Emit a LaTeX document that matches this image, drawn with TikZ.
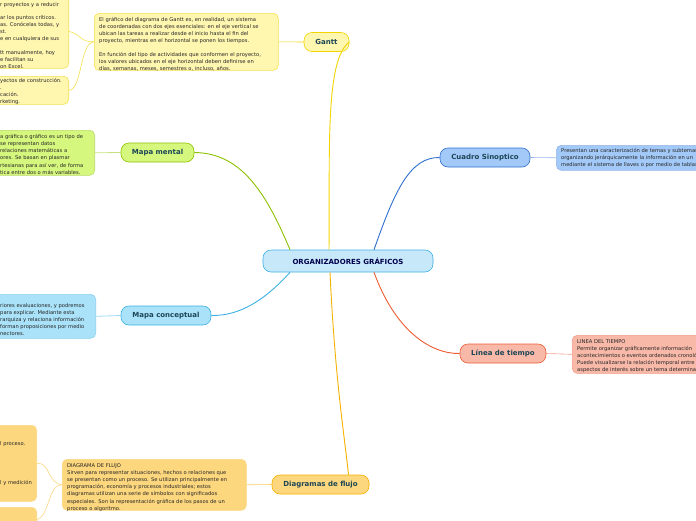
\documentclass[tikz,border=0pt]{standalone}
\usepackage{fontspec}
\setmainfont{DejaVu Sans}
\begin{document}
\begin{tikzpicture}[x=1pt,y=-1pt,
  box/.style={draw,rounded corners=5pt,line width=0.6pt},
  topic/.style={box,rounded corners=8pt,font=\fontsize{7}{8}\selectfont\bfseries,text=tealdark,inner sep=0pt},
  txt/.style={font=\fontsize{5.2}{7.2}\selectfont,align=left,anchor=north west,inner sep=0pt,text=black!85},
  link/.style={line width=0.9pt}]
\definecolor{tealdark}{HTML}{1C4656}
\useasboundingbox (0,0) rectangle (696,520);
\clip (0,0) rectangle (696,520);
\definecolor{yel}{HTML}{FFF6B0}\definecolor{yelB}{HTML}{F2D400}
\definecolor{grn}{HTML}{D6F77E}\definecolor{grnB}{HTML}{8DC100}
\definecolor{blu}{HTML}{A9E2F9}\definecolor{bluB}{HTML}{3DB1E3}
\definecolor{org}{HTML}{FDD77E}\definecolor{orgB}{HTML}{F5B000}
\definecolor{sin}{HTML}{A2C9F7}\definecolor{sinB}{HTML}{2F6FD0}
\definecolor{red}{HTML}{F8B9A9}\definecolor{redB}{HTML}{EC5B33}
\definecolor{cen}{HTML}{C7E8F9}

% central
\node[topic,fill=cen,draw=bluB,minimum width=170,minimum height=22,text=blue!30!black] (c) at (348,261) {ORGANIZADORES GRÁFICOS};
% children
\node[topic,fill=yel,draw=yelB,minimum width=45,minimum height=19] (g) at (326.5,42) {Gantt};
\node[topic,fill=grn,draw=grnB,minimum width=73,minimum height=19] (mm) at (157.5,152.5) {Mapa mental};
\node[topic,fill=blu,draw=bluB,minimum width=90,minimum height=19] (mc) at (166,315.5) {Mapa conceptual};
\node[topic,fill=org,draw=orgB,minimum width=97,minimum height=19] (df) at (320.5,484.5) {Diagramas de flujo};
\node[topic,fill=sin,draw=sinB,minimum width=90,minimum height=19] (cs) at (485,157.5) {Cuadro Sinoptico};
\node[topic,fill=red,draw=redB,minimum width=86,minimum height=19] (lt) at (503,353.5) {Línea de tiempo};

% main links
\draw[link,yelB] (c.north)+(-19,0) coordinate (c1) (c1) .. controls (330,150) and (325,60) .. (g.east);
\draw[link,grnB] (c.north)+(-58,0) coordinate (c2) (c2) .. controls (265,190) and (240,153) .. (mm.east);
\draw[link,bluB] (c.south)+(-58,0) coordinate (c3) (c3) .. controls (265,300) and (240,316) .. (mc.east);
\draw[link,orgB] (c.south)+(-18,0) coordinate (c4) (df.north)+(28,0) coordinate (d4) (c4) .. controls (335,380) and (345,440) .. (d4);
\draw[link,sinB] (c.north)+(26,0) coordinate (c5) (c5) .. controls (395,190) and (410,157) .. (cs.west);
\draw[link,redB] (c.south)+(26,0) coordinate (c6) (c6) .. controls (395,330) and (430,354) .. (lt.west);

% text boxes
\node[box,fill=yel,draw=yelB!70,minimum width=184,minimum height=57,anchor=north west] (gt) at (94,13) {};
\node[txt] at (99,17) {El gráfico del diagrama de Gantt es, en realidad, un sistema\\de coordenadas con dos ejes esenciales: en el eje vertical se\\ubican las tareas a realizar desde el inicio hasta el fin del\\proyecto, mientras en el horizontal se ponen los tiempos.\\[6pt]En función del tipo de actividades que conformen el proyecto,\\los valores ubicados en el eje horizontal deben definirse en\\días, semanas, meses, semestres o, incluso, años.};
\draw[yelB,line width=0.6pt] (g.west) -- (gt.east);

\node[box,fill=yel,draw=yelB!70,minimum width=80,minimum height=74,anchor=north east] (g1) at (69,-6) {};
\node[txt] at (0,2) {r proyectos y a reducir\\[6pt]ar los puntos críticos.\\as. Conócelas todas, y\\st.\\e en cualquiera de sus\\[6pt]tt manualmente, hoy\\e facilitan su\\on Excel.};
\node[box,fill=yel,draw=yelB!70,minimum width=80,minimum height=28,anchor=north east] (g2) at (69,76) {};
\node[txt] at (0,78) {yectos de construcción.\\.\\cación.\\rketing.};
\draw[yelB!70,line width=0.6pt] (gt.west) .. controls (80,42) and (82,35) .. (g1.east);
\draw[yelB!70,line width=0.6pt] (gt.west) .. controls (80,42) and (82,90) .. (g2.east);

\node[box,fill=grn,draw=grnB!60,minimum width=105,minimum height=45,anchor=north east] (mt) at (95,130) {};
\node[txt] at (0,134) {a gráfica o gráfico es un tipo de\\se representan datos\\ relaciones matemáticas a\\ores. Se basan en plasmar\\rtesianas para así ver, de forma\\tica entre dos o más variables.};
\draw[grnB!50,line width=0.8pt] (mm.west) -- (mt.east);

\node[box,fill=blu,draw=bluB!60,minimum width=106,minimum height=44,anchor=north east] (ct) at (96,294) {};
\node[txt] at (0,303) {riores evaluaciones, y podremos\\para explicar. Mediante esta\\rarquiza y relaciona información\\forman proposiciones por medio\\nectores.};
\draw[bluB!50,line width=0.8pt] (mc.west) -- (ct.east);

\node[box,fill=org,draw=orgB!50,minimum width=184,minimum height=51,anchor=north west] (ft) at (62,459) {};
\node[txt] at (67,463) {DIAGRAMA DE FLUJO\\Sirven para representar situaciones, hechos o relaciones que\\se presentan como un proceso. Se utilizan principalmente en\\programación, economía y procesos industriales; estos\\diagramas utilizan una serie de símbolos con significados\\especiales.  Son la representación gráfica de los pasos de un\\proceso o algoritmo.};
\draw[orgB!60,line width=0.6pt] (df.west) -- (ft.east);
\node[box,fill=org,draw=orgB!50,minimum width=47,minimum height=76,anchor=north east] (f1) at (37,425) {};
\node[txt] at (0,441) {l proceso.};
\node[txt] at (0,480) {l y medición};
\node[box,fill=org,draw=orgB!50,minimum width=47,minimum height=30,anchor=north east] (f2) at (37,507) {};
\coordinate (f2e) at (37,520);
\draw[orgB!50,line width=0.6pt] (ft.west) .. controls (48,484) and (50,462) .. (f1.east);
\draw[orgB!50,line width=0.6pt] (ft.west) .. controls (48,484) and (50,515) .. (f2e);

\node[box,fill=sin,draw=sinB!50,minimum width=160,minimum height=25,anchor=north west] (st) at (556,145) {};
\node[txt] at (561,148) {Presentan una caracterización de temas y subtemas\\organizando jerárquicamente la información en un\\mediante el sistema de llaves o por medio de tablas};
\draw[sinB!50,line width=0.6pt] (cs.east) -- (st.west);

\node[box,fill=red,draw=redB!60,minimum width=150,minimum height=38,anchor=north west] (lx) at (572,335) {};
\node[txt] at (577,339) {LINEA DEL TIEMPO\\Permite organizar gráficamente información\\acontecimientos o eventos ordenados cronológicamente\\Puede visualizarse la relación temporal entre\\aspectos de interés sobre un tema determinado};
\draw[redB!60,line width=0.6pt] (lt.east) -- (lx.west);
\end{tikzpicture}
\end{document}
